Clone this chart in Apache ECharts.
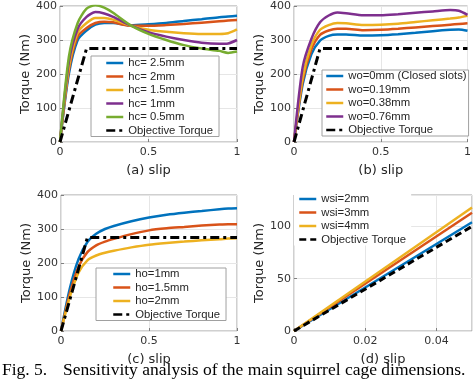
<!DOCTYPE html>
<html>
<head>
<meta charset="utf-8">
<script src="https://cdn.jsdelivr.net/npm/echarts@6/dist/echarts.min.js"></script>
<style>
html,body{margin:0;padding:0;background:#fff;}
#chart{width:474px;height:388px;}
</style>
</head>
<body>
<div id="chart"></div>
<script>
// ---------- data ----------
const slip = [0, 0.05, 0.1, 0.15, 0.2, 0.25, 0.3, 0.4, 0.5, 0.6, 0.7, 0.8, 0.9, 0.95, 1];
const objSlip = [0, 0.15, 1];
const objTorque = [0, 275, 275];

// (a) hc
const hcNames = ['hc= 2.5mm', 'hc= 2mm', 'hc= 1.5mm', 'hc= 1mm', 'hc= 0.5mm'];
const hc25 = [0, 200, 300, 328, 345, 350, 350, 343, 346, 350, 356, 361, 367, 369, 371];
const hc20 = [0, 210, 310, 335, 350, 354, 352, 342, 342, 344, 347, 351, 355, 357, 359];
const hc15 = [0, 220, 322, 350, 365, 365, 360, 342, 330, 324, 320, 318, 318, 320, 331];
const hc10 = [0, 235, 333, 368, 382, 378, 368, 343, 323, 310, 300, 292, 289, 290, 300];
const hc05 = [0, 250, 350, 392, 402, 395, 380, 343, 318, 300, 285, 275, 268, 262, 266];

// (b) wo
const woNames = ['wo=0mm (Closed slots)', 'wo=0.19mm', 'wo=0.38mm', 'wo=0.76mm'];
const wo000 = [0, 170, 258, 298, 312, 316, 316, 313, 314, 317, 321, 326, 330, 331, 327];
const wo019 = [0, 180, 272, 315, 328, 333, 333, 329, 330, 333, 337, 341, 345, 347, 349];
const wo038 = [0, 190, 285, 330, 344, 350, 349, 344, 345, 348, 353, 358, 363, 366, 371];
const wo076 = [0, 220, 303, 352, 372, 381, 379, 373, 373, 376, 380, 384, 388, 386, 374];

// (c) ho
const hoNames = ['ho=1mm', 'ho=1.5mm', 'ho=2mm'];
const ho10 = [0, 125, 212, 262, 286, 300, 309, 323, 334, 342, 348, 353, 358, 360, 361];
const ho15 = [0, 110, 190, 232, 252, 263, 271, 285, 296, 302, 306, 310, 313, 314, 314];
const ho20 = [0, 100, 172, 208, 222, 230, 236, 246, 254, 259, 263, 267, 270, 272, 273];

// (d) wsi
const wsiNames = ['wsi=2mm', 'wsi=3mm', 'wsi=4mm'];
const wsiSlip = [0, 0.05];
const wsi2 = [0, 104];
const wsi3 = [0, 113];
const wsi4 = [0, 118];
const objD = [0, 100];

const objName = 'Objective Torque';
const xNames = ['(a) slip', '(b) slip', '(c) slip', '(d) slip'];
const yName = 'Torque (Nm)';
const captionFig = 'Fig. 5.';
const captionText = 'Sensitivity analysis of the main squirrel cage dimensions.';

// ---------- styling ----------
const C = ['#0072BD', '#D95319', '#EDB120', '#7E2F8E', '#77AC30'];
const SANS = 'DejaVu Sans';
const pairs = (xs, ys) => xs.map((x, i) => [x, ys[i]]);

const grids = [
  {left: 60, top: 6, width: 177, height: 136},
  {left: 294, top: 6, width: 178, height: 136},
  {left: 61, top: 195, width: 176, height: 136},
  {left: 294, top: 195, width: 178, height: 136}
].map(g => Object.assign(g, {show: true, borderColor: '#a0a0a0', borderWidth: 1, backgroundColor: '#fff'}));

function xAx(i, max, interval) {
  return {
    type: 'value', gridIndex: i, min: 0, max: max, interval: interval,
    name: xNames[i], nameLocation: 'middle', nameGap: 22,
    nameTextStyle: {fontFamily: SANS, fontSize: 13, color: '#262626'},
    axisLine: {show: false},
    axisTick: {show: true, inside: true, length: 3, lineStyle: {color: '#808080'}},
    axisLabel: {fontFamily: SANS, fontSize: 11, color: '#333', margin: 5, showMaxLabel: i === 3 ? false : true},
    splitLine: {show: true, lineStyle: {color: '#e6e6e6', width: 1}}
  };
}
function yAx(i, max, interval) {
  return {
    type: 'value', gridIndex: i, min: 0, max: max, interval: interval,
    name: yName, nameLocation: 'middle', nameGap: 22,
    nameTextStyle: {fontFamily: SANS, fontSize: 13, color: '#262626'},
    axisLine: {show: false},
    axisTick: {show: true, inside: true, length: 3, lineStyle: {color: '#808080'}},
    axisLabel: {fontFamily: SANS, fontSize: 11, color: '#333', margin: 3, showMaxLabel: i === 3 ? false : true},
    splitLine: {show: true, lineStyle: {color: '#e6e6e6', width: 1}}
  };
}

function line(name, idx, xs, ys, color) {
  return {
    type: 'line', name: name, xAxisIndex: idx, yAxisIndex: idx,
    data: pairs(xs, ys), symbol: 'none', smooth: 0.25, animation: false,
    lineStyle: {color: color, width: 2.5}, itemStyle: {color: color}, z: 3
  };
}
function obj(name, idx, xs, ys, dash) {
  return {
    type: 'line', name: name, xAxisIndex: idx, yAxisIndex: idx,
    data: pairs(xs, ys), symbol: 'none', animation: false,
    lineStyle: {color: '#000', width: 3, type: dash}, itemStyle: {color: '#000'}, z: 4
  };
}

const dashDot = [9, 4, 3, 4];
const series = [
  line(hcNames[0], 0, slip, hc25, C[0]),
  line(hcNames[1], 0, slip, hc20, C[1]),
  line(hcNames[2], 0, slip, hc15, C[2]),
  line(hcNames[3], 0, slip, hc10, C[3]),
  line(hcNames[4], 0, slip, hc05, C[4]),
  obj(objName, 0, objSlip, objTorque, dashDot),
  line(woNames[0], 1, slip, wo000, C[0]),
  line(woNames[1], 1, slip, wo019, C[1]),
  line(woNames[2], 1, slip, wo038, C[2]),
  line(woNames[3], 1, slip, wo076, C[3]),
  obj(objName, 1, objSlip, objTorque, dashDot),
  line(hoNames[0], 2, slip, ho10, C[0]),
  line(hoNames[1], 2, slip, ho15, C[1]),
  line(hoNames[2], 2, slip, ho20, C[2]),
  obj(objName, 2, objSlip, objTorque, dashDot),
  Object.assign(line(wsiNames[0], 3, wsiSlip, wsi2, C[0]), {smooth: false}),
  Object.assign(line(wsiNames[1], 3, wsiSlip, wsi3, C[1]), {smooth: false}),
  Object.assign(line(wsiNames[2], 3, wsiSlip, wsi4, C[2]), {smooth: false}),
  obj(objName + ' ', 3, wsiSlip, objD, [7, 4])
];

function legend(names, left, top, padding, border) {
  return {
    orient: 'vertical', left: left, top: top, padding: padding,
    data: names, itemWidth: 17, itemHeight: 12, itemGap: 1.5,
    backgroundColor: '#fff', borderColor: border ? '#a0a0a0' : 'transparent', borderWidth: border ? 1 : 0,
    selectedMode: false,
    itemStyle: {opacity: 0},
    lineStyle: {width: 2.5},
    textStyle: {fontFamily: 'Liberation Sans', fontSize: 11.3, color: '#262626', lineHeight: 12}
  };
}

const option = {
  animation: false,
  backgroundColor: '#fff',
  grid: grids,
  xAxis: [xAx(0, 1, 0.5), xAx(1, 1, 0.5), xAx(2, 1, 0.5), xAx(3, 0.05, 0.02)],
  yAxis: [yAx(0, 400, 100), yAx(1, 400, 100), yAx(2, 400, 100), yAx(3, 130, 50)],
  legend: [
    legend(hcNames.concat([objName]), 91, 56, [1, 6, 0, 14], true),
    legend(woNames.concat([objName]), 322, 70, [0, 2, 0, 3], true),
    legend(hoNames.concat([objName]), 96, 268, [0, 6, 0, 16], true),
    legend(wsiNames.concat([objName + ' ']), 294, 193, [0, 2, 0, 4], false)
  ],
  series: series,
  graphic: [
    {type: 'text', left: 2, top: 361, style: {text: captionFig, font: '17.5px "Liberation Serif"', fill: '#000'}},
    {type: 'text', left: 63, top: 361, style: {text: captionText, font: '17.5px "Liberation Serif"', fill: '#000'}}
  ]
};

const chart = echarts.init(document.getElementById('chart'), null, {renderer: 'canvas'});
chart.setOption(option);
</script>
</body>
</html>
